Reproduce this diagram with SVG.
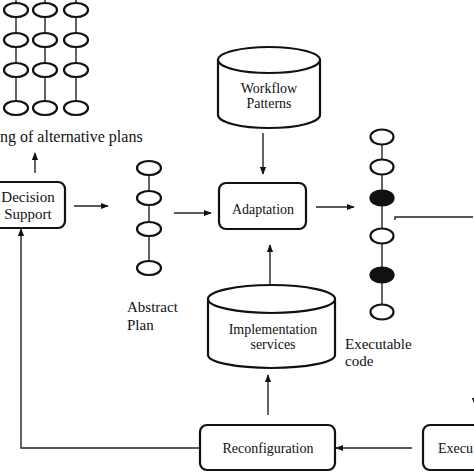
<svg xmlns="http://www.w3.org/2000/svg" width="474" height="474" viewBox="0 0 474 474">
<defs>
<marker id="ah" viewBox="0 0 10 10" refX="9" refY="5" markerWidth="8" markerHeight="8" markerUnits="userSpaceOnUse" orient="auto">
<path d="M0,1 L10,5 L0,9 Z" fill="#111"/>
</marker>
<style>
.box{fill:#fff;stroke:#111;stroke-width:2.2}
.el{fill:#fff;stroke:#111;stroke-width:2.2}
.fel{fill:#111;stroke:#111;stroke-width:2.2}
.ln{fill:none;stroke:#222;stroke-width:1.4}
.cn{fill:none;stroke:#222;stroke-width:1.4}
text{fill:#111}
</style>
</defs>
<rect width="474" height="474" fill="#fff"/>

<g font-family="Liberation Serif, Times New Roman, DejaVu Serif, serif">
<g id="alternative-plans">
<line class="ln" x1="16" y1="0" x2="16" y2="108"/>
<line class="ln" x1="45" y1="0" x2="45" y2="108"/>
<line class="ln" x1="76" y1="0" x2="76" y2="108"/>
<ellipse class="el" cx="16" cy="10" rx="12" ry="7"/>
<ellipse class="el" cx="45" cy="10" rx="12" ry="7"/>
<ellipse class="el" cx="76" cy="10" rx="12" ry="7"/>
<ellipse class="el" cx="16" cy="40" rx="12" ry="7"/>
<ellipse class="el" cx="45" cy="40" rx="12" ry="7"/>
<ellipse class="el" cx="76" cy="40" rx="12" ry="7"/>
<ellipse class="el" cx="16" cy="70" rx="12" ry="7"/>
<ellipse class="el" cx="45" cy="70" rx="12" ry="7"/>
<ellipse class="el" cx="76" cy="70" rx="12" ry="7"/>
<ellipse class="el" cx="16" cy="108" rx="12" ry="7"/>
<ellipse class="el" cx="45" cy="108" rx="12" ry="7"/>
<ellipse class="el" cx="76" cy="108" rx="12" ry="7"/>
<text x="0" y="142" font-size="16">ng of alternative plans</text>
</g>

<g id="decision-support">
<rect class="box" x="-25" y="182" width="90" height="46" rx="7"/>
<text x="28" y="202" font-size="15" text-anchor="middle">Decision</text>
<text x="28" y="219" font-size="15" text-anchor="middle">Support</text>
</g>

<g id="abstract-plan">
<line class="ln" x1="149" y1="168" x2="149" y2="268"/>
<ellipse class="el" cx="149" cy="168" rx="12" ry="7"/>
<ellipse class="el" cx="149" cy="198" rx="12" ry="7"/>
<ellipse class="el" cx="149" cy="229" rx="12" ry="7"/>
<ellipse class="el" cx="149" cy="268" rx="12" ry="7"/>
<text x="127" y="312" font-size="15">Abstract</text>
<text x="127" y="330" font-size="15">Plan</text>
</g>

<g id="workflow-patterns">
<path class="box" d="M218,60 L218,115 A51,13 0 0 0 320,115 L320,60"/>
<ellipse class="el" cx="269" cy="60" rx="51" ry="13"/>
<text x="269" y="93" font-size="14" text-anchor="middle">Workflow</text>
<text x="269" y="108" font-size="14" text-anchor="middle">Patterns</text>
</g>

<g id="adaptation">
<rect class="box" x="219" y="183" width="87" height="46" rx="7"/>
<text x="263" y="214" font-size="14" text-anchor="middle">Adaptation</text>
</g>

<g id="implementation-services">
<path class="box" d="M208,299 L208,355 A63.5,13 0 0 0 335,355 L335,299"/>
<ellipse class="el" cx="271.5" cy="299" rx="63.5" ry="14"/>
<text x="273" y="334" font-size="14" text-anchor="middle">Implementation</text>
<text x="273" y="349" font-size="14" text-anchor="middle">services</text>
</g>

<g id="executable-code">
<line class="ln" x1="382" y1="137" x2="382" y2="312"/>
<ellipse class="el" cx="382" cy="137" rx="11.5" ry="7.5"/>
<ellipse class="el" cx="382" cy="167" rx="11.5" ry="7.5"/>
<ellipse class="fel" cx="382" cy="198" rx="11.5" ry="7.5"/>
<ellipse class="el" cx="382" cy="236" rx="11.5" ry="7.5"/>
<ellipse class="fel" cx="382" cy="275" rx="11.5" ry="7.5"/>
<ellipse class="el" cx="382" cy="312" rx="11.5" ry="7.5"/>
<text x="345" y="349" font-size="15">Executable</text>
<text x="345" y="366" font-size="15">code</text>
</g>

<g id="reconfiguration">
<rect class="box" x="200" y="425" width="135" height="45" rx="7"/>
<text x="268" y="453" font-size="14" text-anchor="middle">Reconfiguration</text>
</g>

<g id="execution">
<rect class="box" x="423" y="425" width="90" height="45" rx="7"/>
<text x="438" y="453" font-size="14">Execu</text>
</g>
</g>

<g id="connectors">
<line class="cn" x1="35" y1="173" x2="35" y2="153" marker-end="url(#ah)"/>
<line class="cn" x1="74" y1="206" x2="108" y2="206" marker-end="url(#ah)"/>
<line class="cn" x1="174" y1="213" x2="211" y2="213" marker-end="url(#ah)"/>
<line class="cn" x1="263" y1="133" x2="263" y2="174" marker-end="url(#ah)"/>
<line class="cn" x1="270" y1="285" x2="270" y2="245" marker-end="url(#ah)"/>
<line class="cn" x1="316" y1="207" x2="354" y2="207" marker-end="url(#ah)"/>
<path class="cn" d="M395,220 L395,217 L473,217"/>
<line class="cn" x1="268" y1="415" x2="268" y2="375" marker-end="url(#ah)"/>
<line class="cn" x1="412" y1="448" x2="336" y2="448" marker-end="url(#ah)"/>
<path class="cn" d="M200,448 L21,448 L21,229" marker-end="url(#ah)"/>
<line class="cn" x1="475" y1="230" x2="475" y2="405" marker-end="url(#ah)"/>
</g>
</svg>
